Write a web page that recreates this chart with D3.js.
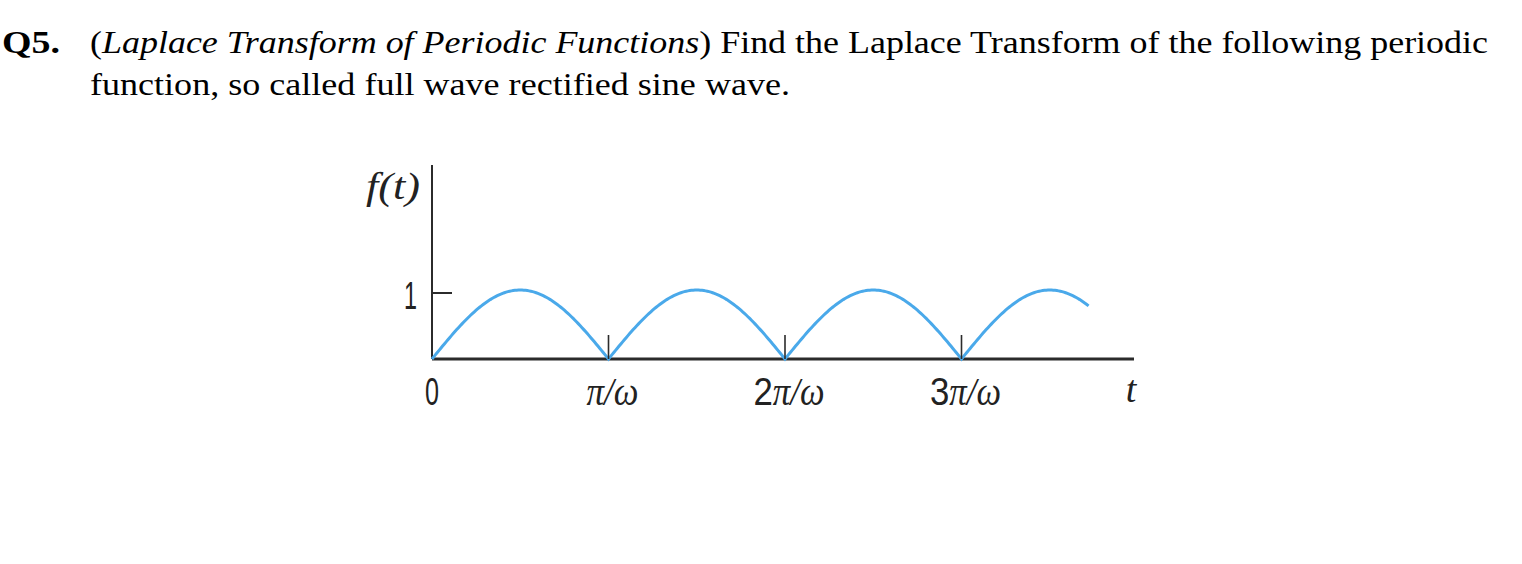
<!DOCTYPE html>
<html><head><meta charset="utf-8">
<script src="https://cdn.jsdelivr.net/npm/d3@7"></script>
<style>body{margin:0;background:#fff}svg{display:block}</style>
</head><body>
<svg id="c" width="1522" height="564"></svg>
<script>
// Data
const xTickValues = [0, 1, 2, 3];            // multiples of pi/omega
const xTickPrefix = ["0", "", "2", "3"];
const xTickSuffix = ["", "π/ω", "π/ω", "π/ω"];
const yTickValues = [1];
const yTickLabels = ["1"];
// |sin(pi*t)| curve, t in units of pi/omega, ends near t = 3.727
const curveT = d3.range(0, 3.7271, 0.01);
const curveF = curveT.map(t => Math.abs(Math.sin(Math.PI * t)));
const xMax = 4.0;   // axis extends to this t
const titleLine1Bold = "Q5.";
const titleLine1Italic = "Laplace Transform of Periodic Functions";
const titleLine1Rest = " Find the Laplace Transform of the following periodic";
const titleLine2 = "function, so called full wave rectified sine wave.";

const svg = d3.select("#c");
const x = d3.scaleLinear().domain([0, 1]).range([432, 608.5]);
const y = d3.scaleLinear().domain([0, 1]).range([359, 290]);

// Title
const serif = "'Liberation Serif', 'DejaVu Serif', serif";
svg.append("text").attr("x", 2).attr("y", 53).attr("font-family", serif)
  .attr("font-weight", "bold").attr("font-size", 31).attr("fill", "#000")
  .attr("textLength", 58).attr("lengthAdjust", "spacingAndGlyphs").text(titleLine1Bold);
const t1 = svg.append("text").attr("x", 90).attr("y", 53).attr("font-family", serif)
  .attr("font-size", 31).attr("fill", "#000")
  .attr("textLength", 1398).attr("lengthAdjust", "spacingAndGlyphs");
t1.append("tspan").text("(");
t1.append("tspan").attr("font-style", "italic").text(titleLine1Italic);
t1.append("tspan").text(")" + titleLine1Rest);
svg.append("text").attr("x", 90).attr("y", 95).attr("font-family", serif)
  .attr("font-size", 31).attr("fill", "#000")
  .attr("textLength", 700).attr("lengthAdjust", "spacingAndGlyphs").text(titleLine2);

// Axes
const axisColor = "#2b2b2b";
const sans = "'Liberation Sans', Arial, sans-serif";
svg.append("line").attr("x1", x(0)).attr("x2", x(xMax) - 4).attr("y1", y(0)).attr("y2", y(0))
  .attr("stroke", axisColor).attr("stroke-width", 3);
svg.append("line").attr("x1", x(0)).attr("x2", x(0)).attr("y1", 165).attr("y2", y(0))
  .attr("stroke", axisColor).attr("stroke-width", 2);

// curve
const line = d3.line().x((d, i) => x(curveT[i])).y(d => y(d));
svg.append("path").datum(curveF).attr("d", line).attr("fill", "none")
  .attr("stroke", "#4aa9ea").attr("stroke-width", 3);

// x ticks
svg.selectAll(".xt").data(xTickValues.filter(v => v > 0)).enter().append("line")
  .attr("x1", d => x(d)).attr("x2", d => x(d)).attr("y1", 335).attr("y2", y(0))
  .attr("stroke", axisColor).attr("stroke-width", 1.6);
const labW = [14, 52, 71, 71];
const xl = svg.selectAll(".xl").data(xTickValues).enter().append("text")
  .attr("x", d => x(d) - labW[d] / 2 + (d > 0 ? 4 : 0)).attr("y", 405)
  .attr("font-size", 39).attr("fill", "#222")
  .attr("textLength", (d) => labW[d]).attr("lengthAdjust", "spacingAndGlyphs");
xl.append("tspan").attr("font-family", sans).text((d, i) => xTickPrefix[i]);
xl.append("tspan").attr("font-family", serif).attr("font-style", "italic").text((d, i) => xTickSuffix[i]);

svg.append("text").attr("x", 1131).attr("y", 402).attr("text-anchor", "middle")
  .attr("font-family", serif).attr("font-style", "italic").attr("font-size", 38).attr("fill", "#222")
  .text("t");

// y ticks
svg.selectAll(".yt").data(yTickValues).enter().append("line")
  .attr("x1", x(0)).attr("x2", x(0) + 20).attr("y1", d => y(d) + 3).attr("y2", d => y(d) + 3)
  .attr("stroke", axisColor).attr("stroke-width", 2);
svg.selectAll(".yl").data(yTickValues).enter().append("text")
  .attr("x", 404).attr("y", d => y(d) + 19)
  .attr("font-family", sans).attr("font-size", 39).attr("fill", "#222")
  .attr("textLength", 13).attr("lengthAdjust", "spacingAndGlyphs")
  .text((d, i) => yTickLabels[i]);
svg.append("text").attr("x", 366).attr("y", 199)
  .attr("font-family", serif).attr("font-style", "italic").attr("font-size", 38).attr("fill", "#222")
  .attr("textLength", 54).attr("lengthAdjust", "spacingAndGlyphs")
  .text("f(t)");
</script>
</body></html>
